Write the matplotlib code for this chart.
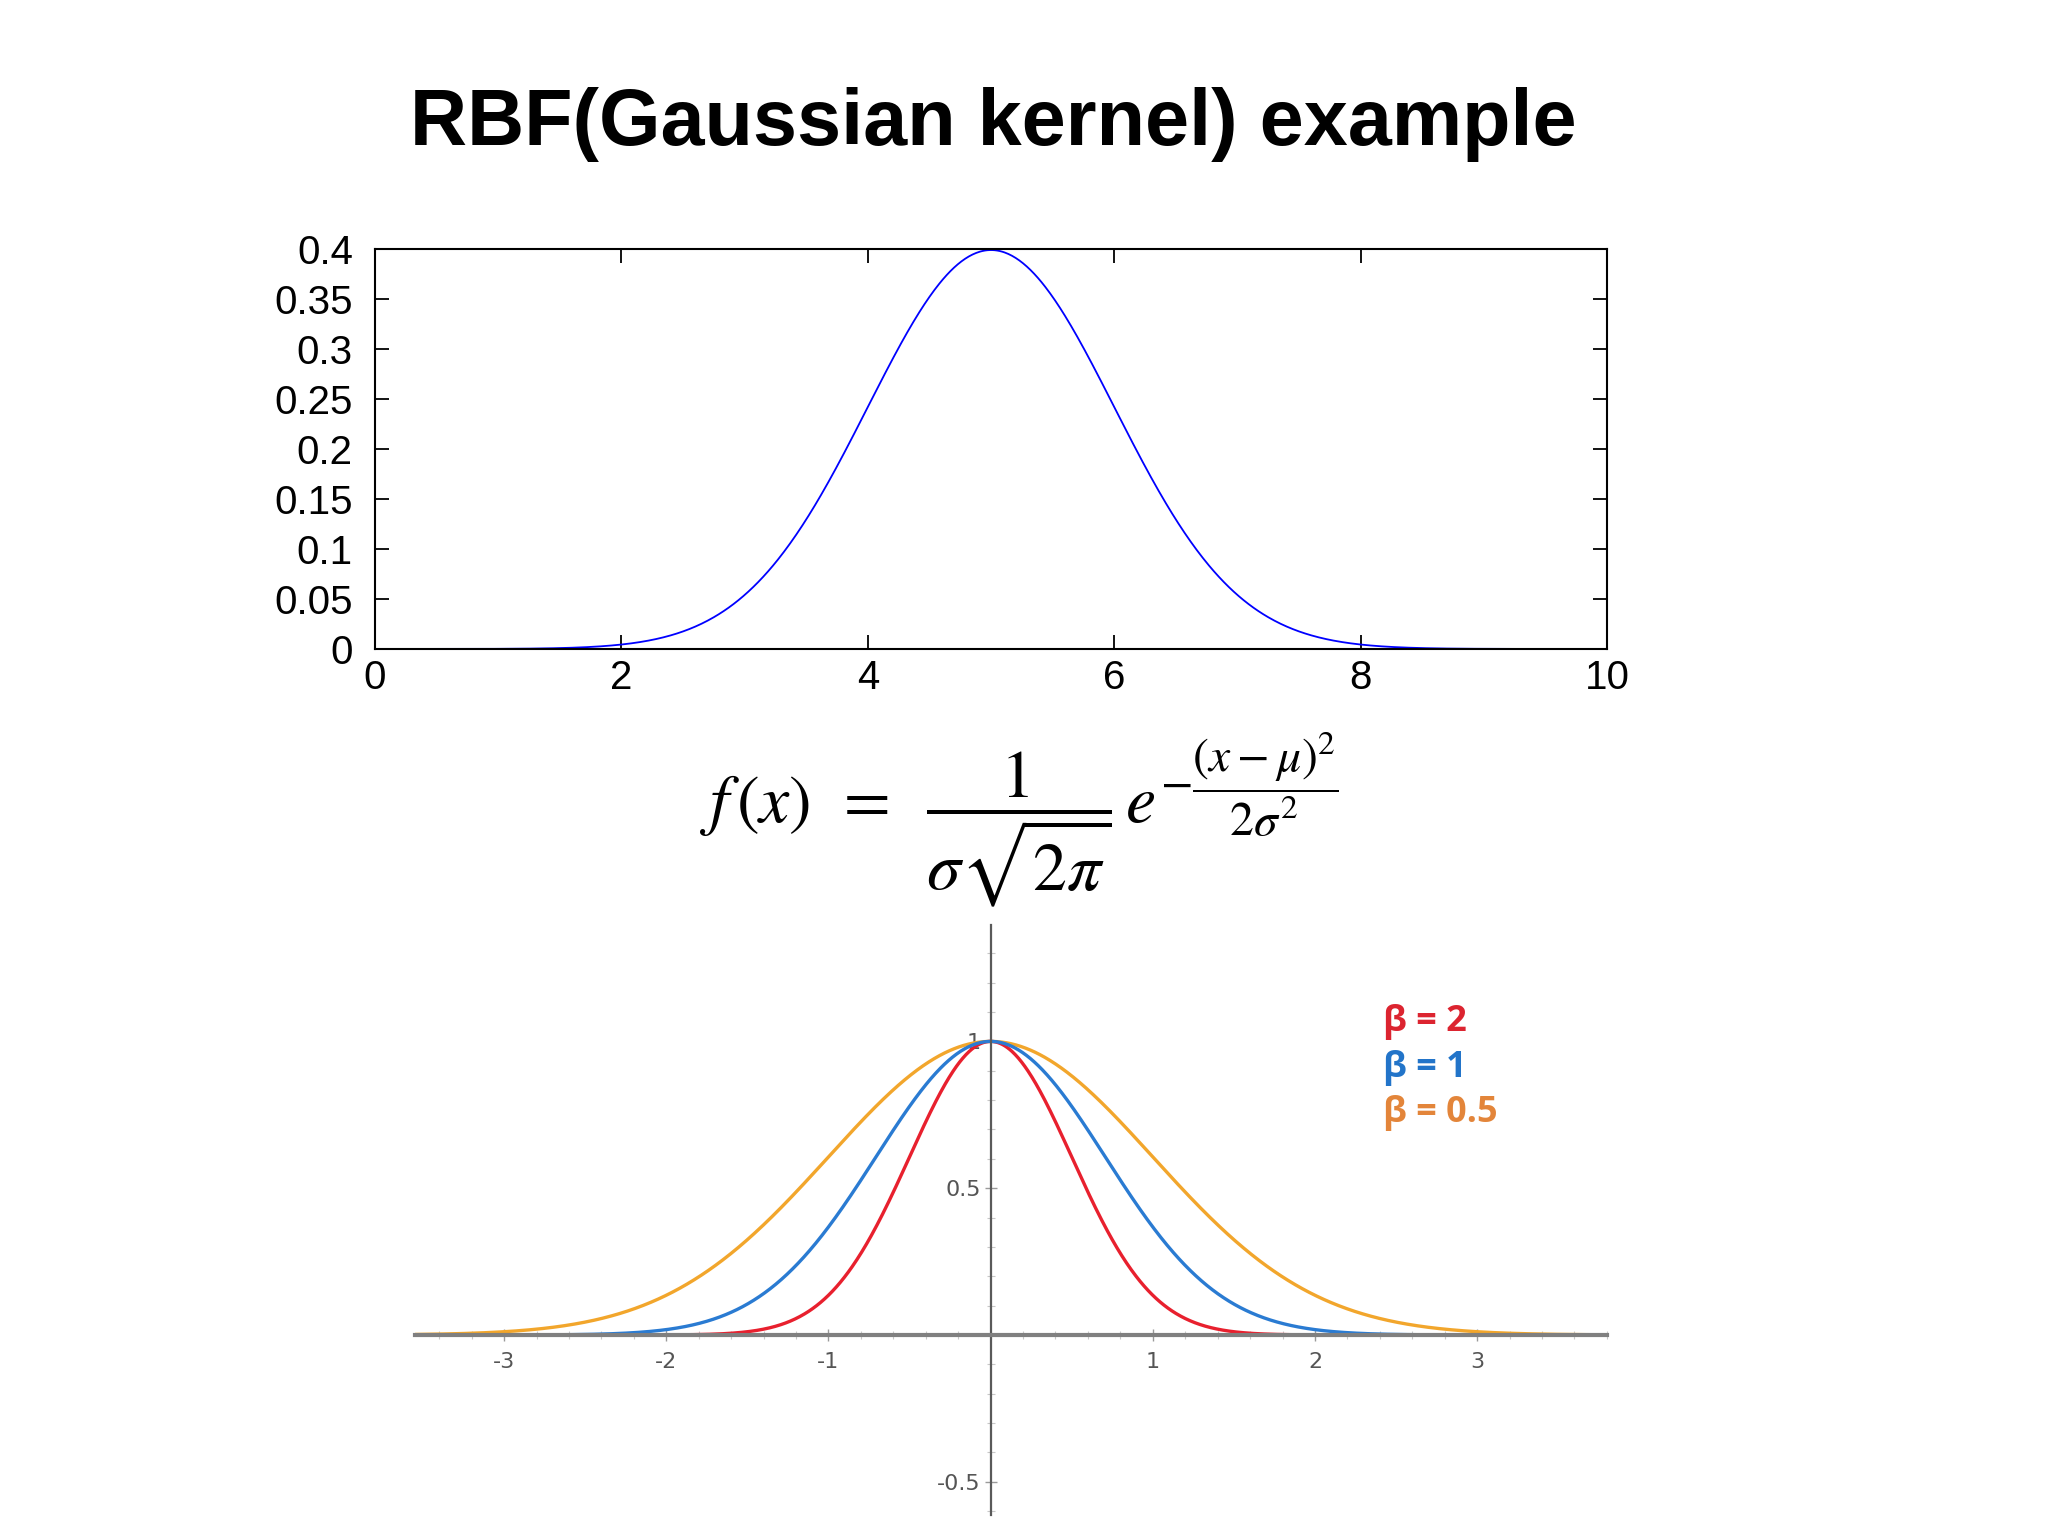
import numpy as np
import matplotlib
matplotlib.use("Agg")
import matplotlib.pyplot as plt

# ---- data ----
title_text = "RBF(Gaussian kernel) example"
mu = 5.0
sigma = 1.0
top_xticks = [0, 2, 4, 6, 8, 10]
top_yticks = [0, 0.05, 0.1, 0.15, 0.2, 0.25, 0.3, 0.35, 0.4]
top_yticklabels = ["0", "0.05", "0.1", "0.15", "0.2", "0.25", "0.3", "0.35", "0.4"]

betas = [2, 1, 0.5]
beta_labels = ["β = 2", "β = 1", "β = 0.5"]
beta_line_colors = ["#e8202e", "#2a7bd2", "#f2a62c"]
beta_text_colors = ["#dc2430", "#2274c9", "#e3853a"]
bot_xticks = [-3, -2, -1, 1, 2, 3]
bot_xticklabels = ["-3", "-2", "-1", "1", "2", "3"]
bot_yticks = [-0.5, 0.5, 1]
bot_yticklabels = ["-0.5", "0.5", "1"]

plt.rcParams['mathtext.fontset'] = 'stix'

fig = plt.figure(figsize=(20.48, 15.36), dpi=100)
fig.patch.set_facecolor("white")

# title
fig.text(0.485, 0.919, title_text, ha="center", va="center",
         fontsize=57, fontweight="bold", family="Liberation Sans", color="black")

# ---- top plot ----
ax1 = fig.add_axes([0.1831, 0.5775, 0.6016, 0.2604])
x1 = np.linspace(0, 10, 1001)
y1 = 1.0 / (sigma * np.sqrt(2 * np.pi)) * np.exp(-(x1 - mu) ** 2 / (2 * sigma ** 2))
ax1.plot(x1, y1, color="#0000ff", lw=1.3)
ax1.set_xlim(0, 10)
ax1.set_ylim(0, 0.4)
ax1.set_xticks(top_xticks)
ax1.set_xticklabels([str(t) for t in top_xticks])
ax1.set_yticks(top_yticks)
ax1.set_yticklabels(top_yticklabels)
for s in ax1.spines.values():
    s.set_linewidth(1.5)
    s.set_color("black")
ax1.tick_params(direction="in", length=10, width=1.3, top=True, right=True,
                labelsize=29, colors="black")
ax1.tick_params(axis="y", pad=16)
ax1.tick_params(axis="x", pad=7)
for lab in ax1.get_xticklabels() + ax1.get_yticklabels():
    lab.set_family(["Liberation Sans Narrow", "Liberation Sans"])

# ---- formula ----
fig.text(0.4975, 0.466,
         r"$f\,(x)\;\,=\;\;\dfrac{1}{\sigma\sqrt{2\pi}}\,e^{-\dfrac{(x-\mu)^2}{2\sigma^2}}$",
         ha="center", va="center", fontsize=49, color="black")

# ---- bottom plot ----
ax2 = fig.add_axes([0.2026, 0.0137, 0.5820, 0.384])
x2 = np.linspace(-3.55, 3.80, 1500)
order = [2, 0, 1]  # draw orange, red, then blue on top
for i in order:
    ax2.plot(x2, np.exp(-betas[i] * x2 ** 2), color=beta_line_colors[i], lw=2.4,
             solid_capstyle="butt")
ax2.set_xlim(-3.55, 3.80)
ax2.set_ylim(-0.613, 1.396)
ax2.spines["left"].set_position(("data", 0))
ax2.spines["bottom"].set_position(("data", 0))
ax2.spines["top"].set_visible(False)
ax2.spines["right"].set_visible(False)
ax2.spines["left"].set_color("#5a5a5a")
ax2.spines["left"].set_linewidth(1.6)
ax2.spines["bottom"].set_color("#808080")
ax2.spines["bottom"].set_linewidth(3.0)
ax2.set_xticks(bot_xticks)
ax2.set_xticklabels(bot_xticklabels)
ax2.set_yticks(bot_yticks)
ax2.set_yticklabels(bot_yticklabels)
ax2.set_xticks(np.arange(-3.4, 3.81, 0.2), minor=True)
ax2.set_yticks(np.arange(-0.6, 1.4, 0.1), minor=True)
ax2.tick_params(which="major", direction="inout", length=8, width=1.0,
                colors="#9a9a9a", labelcolor="#555555", labelsize=16)
ax2.tick_params(which="minor", direction="inout", length=6, width=0.8, colors="#c8c8c8")
ax2.tick_params(axis="x", which="major", pad=8)
ax2.tick_params(axis="y", which="major", pad=3)
ax2.set_axisbelow(True)
ax2.patch.set_alpha(0)

for lab, col, yy in zip(beta_labels, beta_text_colors, [1.067, 0.911, 0.756]):
    ax2.text(2.42, yy, lab, color=col, fontsize=26, fontweight="bold",
             family=["Open Sans", "DejaVu Sans"], ha="left", va="center")

fig.savefig("out.png", dpi=100, facecolor="white")
